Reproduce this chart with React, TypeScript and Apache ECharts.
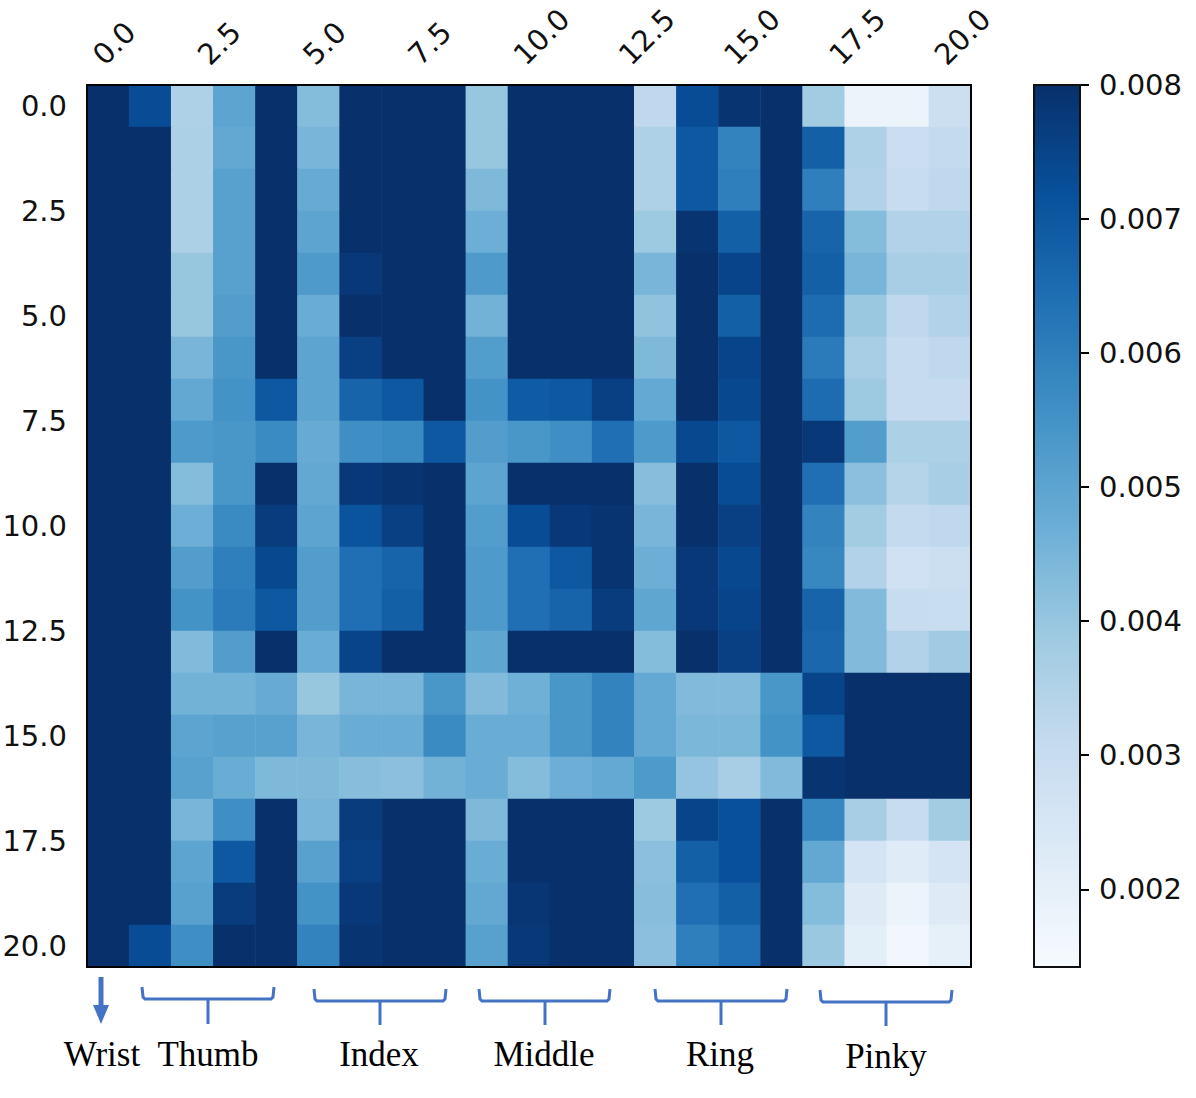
import { useEffect, useRef } from "react";
import * as echarts from "echarts";

// joints 0..20, values in thousandths
const rows = [
  [8, 7.3, 3.55, 5.0, 8, 4.3, 8, 8, 8, 4.0, 8, 8, 8, 3.2, 7.3, 7.9, 8, 3.8, 1.8, 1.8, 2.85],
  [8, 8, 3.6, 4.9, 8, 4.5, 8, 8, 8, 4.0, 8, 8, 8, 3.55, 7.0, 5.9, 8, 6.8, 3.55, 2.9, 3.1],
  [8, 8, 3.6, 5.1, 8, 4.8, 8, 8, 8, 4.4, 8, 8, 8, 3.55, 7.0, 6.0, 8, 6.0, 3.5, 3.0, 3.2],
  [8, 8, 3.6, 5.1, 8, 5.0, 8, 8, 8, 4.7, 8, 8, 8, 3.9, 7.9, 6.8, 8, 6.7, 4.3, 3.5, 3.5],
  [8, 8, 4.0, 5.1, 8, 5.3, 7.8, 8, 8, 5.3, 8, 8, 8, 4.5, 8, 7.5, 8, 6.8, 4.5, 3.7, 3.7],
  [8, 8, 4.0, 5.2, 8, 4.75, 8, 8, 8, 4.6, 8, 8, 8, 4.1, 8, 6.8, 8, 6.5, 3.95, 3.2, 3.5],
  [8, 8, 4.5, 5.4, 8, 5.0, 7.6, 8, 8, 5.2, 8, 8, 8, 4.4, 8, 7.5, 8, 6.1, 3.7, 3.05, 3.2],
  [8, 8, 4.9, 5.5, 7.0, 5.0, 6.7, 7.0, 8, 5.5, 6.9, 7.0, 7.6, 4.85, 8, 7.4, 8, 6.5, 3.9, 3.05, 3.05],
  [8, 8, 5.3, 5.4, 5.7, 4.8, 5.6, 5.7, 7.0, 5.2, 5.4, 5.6, 6.4, 5.3, 7.4, 7.0, 8, 7.8, 5.2, 3.6, 3.6],
  [8, 8, 4.3, 5.4, 8, 4.9, 7.8, 7.9, 8, 5.0, 8, 8, 8, 4.25, 8, 7.3, 8, 6.4, 4.2, 3.4, 3.7],
  [8, 8, 4.7, 5.7, 7.7, 5.0, 7.1, 7.6, 8, 5.2, 7.3, 7.8, 7.9, 4.5, 8, 7.6, 8, 5.9, 3.8, 3.1, 3.2],
  [8, 8, 5.2, 6.0, 7.4, 5.2, 6.4, 6.7, 8, 5.3, 6.4, 7.0, 7.9, 4.7, 7.8, 7.4, 8, 5.8, 3.5, 2.75, 2.85],
  [8, 8, 5.5, 6.1, 7.0, 5.2, 6.4, 6.8, 8, 5.3, 6.4, 6.7, 7.7, 4.95, 7.8, 7.5, 8, 6.7, 4.35, 3.0, 2.95],
  [8, 8, 4.35, 5.2, 8, 4.75, 7.5, 8, 8, 4.95, 8, 8, 8, 4.3, 8, 7.6, 8, 6.6, 4.35, 3.5, 3.85],
  [8, 8, 4.6, 4.6, 4.8, 4.0, 4.5, 4.5, 5.4, 4.35, 4.65, 5.4, 5.9, 4.85, 4.35, 4.35, 5.4, 7.5, 8, 8, 8],
  [8, 8, 5.0, 5.1, 5.1, 4.5, 4.75, 4.75, 5.7, 4.75, 4.75, 5.4, 5.9, 4.85, 4.45, 4.45, 5.5, 7.0, 8, 8, 8],
  [8, 8, 5.1, 4.75, 4.4, 4.4, 4.25, 4.2, 4.6, 4.75, 4.3, 4.7, 4.85, 5.3, 4.05, 3.7, 4.35, 7.9, 8, 8, 8],
  [8, 8, 4.5, 5.6, 8, 4.5, 7.7, 8, 8, 4.4, 8, 8, 8, 3.9, 7.5, 7.2, 8, 5.8, 3.7, 3.0, 3.8],
  [8, 8, 5.0, 7.0, 8, 5.1, 7.6, 8, 8, 4.75, 8, 8, 8, 4.2, 6.8, 7.2, 8, 4.9, 2.6, 2.2, 2.6],
  [8, 8, 5.1, 7.7, 8, 5.5, 7.8, 8, 8, 4.9, 7.85, 8, 8, 4.25, 6.4, 6.8, 8, 4.3, 2.25, 1.8, 2.25],
  [8, 7.3, 5.6, 8, 8, 5.9, 7.9, 8, 8, 5.1, 7.8, 8, 8, 4.2, 6.0, 6.4, 8, 3.95, 2.1, 1.6, 2.0],
];
const joints = rows.map((_, i) => String(i));
const ticks = [0, 2.5, 5, 7.5, 10, 12.5, 15, 17.5, 20];
const barTicks = [0.002, 0.003, 0.004, 0.005, 0.006, 0.007, 0.008];
const blues = ["#f7fbff", "#deebf7", "#c6dbef", "#9ecae1", "#6baed6", "#4292c6", "#2171b5", "#08519c", "#08306b"];
const vMin = 0.00142;
const vMax = 0.008;

const fingers = [
  { name: "Thumb", left: 142, right: 274, top: 987, stem: 208, bottom: 1024, textX: 208, textY: 1054 },
  { name: "Index", left: 314, right: 446, top: 989, stem: 380, bottom: 1025, textX: 379, textY: 1054 },
  { name: "Middle", left: 479, right: 610, top: 989, stem: 545, bottom: 1025, textX: 544, textY: 1054 },
  { name: "Ring", left: 655, right: 787, top: 989, stem: 721, bottom: 1025, textX: 720, textY: 1054 },
  { name: "Pinky", left: 820, right: 952, top: 990, stem: 886, bottom: 1026, textX: 886, textY: 1056 },
];

const BRACE = "#4472c4";
const tickFont = { color: "#111", fontFamily: "DejaVu Sans", fontSize: 29 };

function brace(f: (typeof fingers)[number]) {
  const y = f.top + 12;
  return [
    {
      type: "polyline",
      shape: {
        points: [
          [f.left, f.top],
          [f.left + 1, y - 2],
          [f.left + 3, y],
          [f.right - 3, y],
          [f.right - 1, y - 2],
          [f.right, f.top],
        ],
      },
      style: { stroke: BRACE, lineWidth: 3, fill: "none" },
    },
    {
      type: "line",
      shape: { x1: f.stem, y1: y, x2: f.stem, y2: f.bottom },
      style: { stroke: BRACE, lineWidth: 3 },
    },
    {
      type: "text",
      x: f.textX,
      y: f.textY,
      style: {
        text: f.name,
        fill: "#000",
        font: "35px 'Liberation Serif'",
        textAlign: "center",
        textVerticalAlign: "middle",
      },
    },
  ];
}

export default function App() {
  const chartRef = useRef<HTMLDivElement>(null);

  useEffect(() => {
    if (!chartRef.current) return;
    const chart = echarts.init(chartRef.current, null, { renderer: "svg" });

    const cells: number[][] = [];
    rows.forEach((row, y) => row.forEach((v, x) => cells.push([x, y, v / 1000])));

    chart.setOption({
      animation: false,
      backgroundColor: "#fff",
      grid: [
        { left: 87, top: 85, width: 884, height: 882, outerBoundsMode: "none" },
        { left: 87, top: 85, width: 884, height: 882, outerBoundsMode: "none", show: true, z: 5, borderColor: "#000", borderWidth: 2, backgroundColor: "transparent" },
        { left: 1034, top: 85, width: 46, height: 882, outerBoundsMode: "none", show: true, z: 5, borderColor: "#111", borderWidth: 2, backgroundColor: "transparent" },
      ],
      xAxis: [
        { type: "category", gridIndex: 0, data: joints, show: false },
        {
          type: "value",
          gridIndex: 1,
          position: "top",
          min: -0.5,
          max: 20.5,
          splitLine: { show: false },
          axisLine: { show: false },
          axisTick: { show: true, length: 9, lineStyle: { color: "#000", width: 2 }, customValues: ticks },
          axisLabel: {
            ...tickFont,
            rotate: 45,
            margin: 15,
            align: "left",
            verticalAlign: "bottom",
            customValues: ticks,
            formatter: (v: number) => v.toFixed(1),
          },
        },
        { type: "category", gridIndex: 2, data: ["c"], show: false },
      ],
      yAxis: [
        { type: "category", gridIndex: 0, data: joints, inverse: true, show: false },
        {
          type: "value",
          gridIndex: 1,
          position: "left",
          inverse: true,
          min: -0.5,
          max: 20.5,
          splitLine: { show: false },
          axisLine: { show: false },
          axisTick: { show: true, length: 9, lineStyle: { color: "#000", width: 2 }, customValues: ticks },
          axisLabel: { ...tickFont, margin: 20, customValues: ticks, formatter: (v: number) => v.toFixed(1) },
        },
        {
          type: "value",
          gridIndex: 2,
          position: "right",
          min: vMin,
          max: vMax,
          splitLine: { show: false },
          axisLine: { show: false },
          axisTick: { show: true, length: 9, lineStyle: { color: "#000", width: 2 }, customValues: barTicks },
          axisLabel: { ...tickFont, margin: 19, customValues: barTicks, formatter: (v: number) => v.toFixed(3) },
        },
      ],
      visualMap: {
        show: false,
        type: "continuous",
        seriesIndex: 0,
        min: vMin,
        max: vMax,
        inRange: { color: blues },
      },
      series: [
        {
          type: "heatmap",
          xAxisIndex: 0,
          yAxisIndex: 0,
          data: cells,
          progressive: 0,
          itemStyle: { borderWidth: 0 },
        },
        {
          type: "bar",
          xAxisIndex: 2,
          yAxisIndex: 2,
          barWidth: "100%",
          data: [vMax],
          itemStyle: {
            color: new echarts.graphic.LinearGradient(
              0,
              1,
              0,
              0,
              blues.map((color, i) => ({ offset: i / (blues.length - 1), color })),
            ),
          },
        },
      ],
      graphic: [
        {
          type: "line",
          shape: { x1: 101, y1: 977, x2: 101, y2: 1008 },
          style: { stroke: BRACE, lineWidth: 5 },
        },
        {
          type: "polygon",
          shape: { points: [[93, 1005], [109, 1005], [101, 1024]] },
          style: { fill: BRACE },
        },
        {
          type: "text",
          x: 102,
          y: 1054,
          style: { text: "Wrist", fill: "#000", font: "35px 'Liberation Serif'", textAlign: "center", textVerticalAlign: "middle" },
        },
        ...fingers.flatMap(brace),
      ],
    });

    return () => chart.dispose();
  }, []);

  return <div ref={chartRef} style={{ position: "absolute", left: 0, top: 0, width: 1196, height: 1098 }} />;
}
